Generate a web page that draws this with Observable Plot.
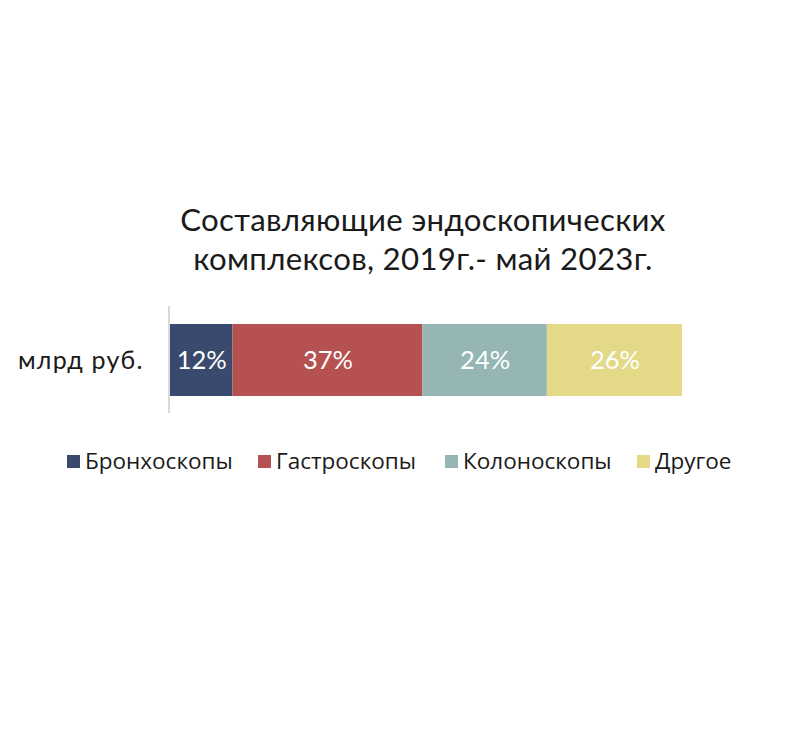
<!DOCTYPE html>
<html>
<head>
<meta charset="utf-8">
<script src="https://cdn.jsdelivr.net/npm/d3@7"></script>
<script src="https://cdn.jsdelivr.net/npm/@observablehq/plot@0.6"></script>
<style>
  html, body { margin: 0; padding: 0; background: #fff; }
  #root { position: relative; width: 803px; height: 730px; font-family: Lato, "Noto Sans", sans-serif; color: #1a1a1a; }
  #title { position: absolute; left: 0; width: 846px; top: 200px; text-align: center; font-size: 31.2px; line-height: 39px; letter-spacing: 0.3px; }
  #chart { position: absolute; left: 0; top: 306px; }
  .leg { position: absolute; top: 447px; font-size: 22.5px; line-height: 28px; white-space: nowrap; font-family: "Open Sans", "Noto Sans", sans-serif; }
  .leg span.sw { position: absolute; left: 0; top: 8px; width: 13px; height: 13px; }
  .leg span.tx { position: absolute; left: 18px; top: 0; display: inline-block; }
</style>
</head>
<body>
<div id="root">
  <div id="title">Составляющие эндоскопических<br>комплексов, 2019г.- май 2023г.</div>
  <div id="chart"></div>
</div>
<script>
const category = "млрд руб.";
const segments = ["Бронхоскопы", "Гастроскопы", "Колоноскопы", "Другое"];
const shares = [12.2, 37.1, 24.3, 26.4];
const colors = ["#394a6e", "#b55150", "#95b6b4", "#e3d987"];
const legendLeft = [67, 258, 445, 637];

const data = segments.map((name, i) => ({name, value: shares[i], cat: category}));

const chart = Plot.plot({
  width: 803,
  height: 107,
  marginLeft: 170,
  marginRight: 121,
  marginTop: 0,
  marginBottom: 0,
  style: {fontFamily: "Lato, 'Noto Sans', sans-serif", fontSize: "25px", color: "#1a1a1a", background: "transparent"},
  x: {domain: [0, 100], axis: null},
  y: {domain: [category], label: null, tickSize: 0, tickPadding: 27, padding: 0.196},
  color: {domain: segments, range: colors},
  marks: [
    Plot.barX(data, Plot.stackX({x: "value", y: "cat", fill: "name", z: "name"})),
    Plot.textX(data, Plot.stackX({x: "value", y: "cat", z: "name", text: d => Math.round(d.value) + "%", fill: "white", fontSize: 25.5, fontWeight: 400})),
    Plot.ruleX([0], {stroke: "#d9d9d9", strokeWidth: 2, dx: -1.5})
  ]
});
chart.querySelectorAll("g[aria-label='y-axis tick label']").forEach(e => { e.setAttribute("letter-spacing", "1.2"); });
document.getElementById("chart").appendChild(chart);

const root = document.getElementById("root");
segments.forEach((name, i) => {
  const d = document.createElement("div");
  d.className = "leg";
  d.style.left = legendLeft[i] + "px";
  d.innerHTML = `<span class="sw" style="background:${colors[i]}"></span><span class="tx">${name}</span>`;
  root.appendChild(d);
});
</script>
</body>
</html>
